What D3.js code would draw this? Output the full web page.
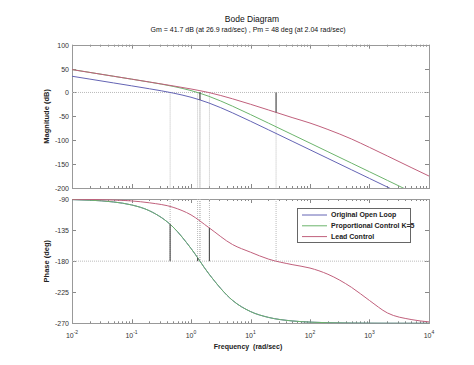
<!DOCTYPE html>
<html>
<head>
<meta charset="utf-8">
<script src="https://cdn.jsdelivr.net/npm/d3@7"></script>
<style>
  body { margin: 0; background: #fff; }
  text { font-family: "Liberation Sans", Arial, sans-serif; fill: #333; }
</style>
</head>
<body>
<div id="chart"></div>
<script>
// frequencies (rad/sec) the curves were read at
const freqs = [0.01, 0.02, 0.05, 0.1, 0.2, 0.5, 1, 2, 5, 10, 20, 50, 100, 200, 500, 1000, 2000, 5000, 10000];

// magnitude (dB)
const magOpen = [33.98, 27.95, 19.98, 13.91, 7.74, -1.23, -10.0, -22.04, -42.75, -60.21, -78.11, -101.95, -120.0, -138.06, -161.94, -180.0, -198.06, -221.94, -240.0];
const magProp = [47.96, 41.93, 33.96, 27.89, 21.72, 12.75, 3.98, -8.06, -28.77, -46.23, -64.13, -87.97, -106.02, -124.08, -147.96, -166.02, -184.08, -207.96, -226.02];
const magLead = [47.95, 41.93, 33.95, 27.94, 21.9, 13.8, 7.3, -0.2, -13.3, -24.7, -36.6, -52.5, -64.0, -77.5, -97.5, -115.0, -133.0, -157.0, -175.0];

// phase (deg) -- open loop and K=5 lie on top of each other
const phaseOpen = [-90.86, -91.72, -94.29, -98.57, -107.02, -130.61, -161.57, -198.43, -236.89, -252.98, -261.43, -266.56, -268.28, -269.14, -269.66, -269.83, -269.91, -269.97, -269.98];
const phaseProp = phaseOpen.slice();
const phaseLead = [-90.3, -90.6, -91.5, -92.8, -95.5, -102, -113, -131.5, -156, -167, -177, -185, -190, -199, -218, -237, -255, -264.5, -268];

// margins per system: gain crossover / phase at it, phase crossover / gain there
const wcp = [0.446, 1.29, 2.04];
const pmPhase = [-126.6, -175.0, -132.0];
const wcg = [1.414, 1.414, 26.9];
const gmMag = [-15.6, -1.6, -41.7];

const seriesNames = ['Original Open Loop', 'Proportional Control K=5', 'Lead Control'];
const seriesColors = ['#6464b4', '#6cb46c', '#c0607c'];

const magTicks = [100, 50, 0, -50, -100, -150, -200];
const phaseTicks = [-90, -135, -180, -225, -270];
const decades = [-2, -1, 0, 1, 2, 3, 4];

const W = 474, H = 365;
const left = 72, right = 429;

const svg = d3.select('#chart').append('svg')
  .attr('width', W)
  .attr('height', H);

const x = d3.scaleLog().domain([1e-2, 1e4]).range([left, right]);
const yMag = d3.scaleLinear().domain([-200, 100]).range([188, 44.7]);
const yPh = d3.scaleLinear().domain([-270, -90]).range([323.3, 199]);

/* draws frame + ticks of one panel */
function panel(y, yTicks, clipId){
  const [y0, y1] = y.range(); // bottom, top
  const g = svg.append('g');

  svg.append('clipPath').attr('id', clipId)
    .append('rect')
    .attr('x', left).attr('y', y1)
    .attr('width', right - left).attr('height', y0 - y1);

  // x ticks, inside, top and bottom
  x.ticks().forEach(t => {
    const major = Math.abs(Math.log10(t) - Math.round(Math.log10(t))) < 1e-9;
    const len = major ? 4 : 2;
    const px = Math.round(x(t)) + 0.5;
    g.append('line').attr('x1', px).attr('x2', px).attr('y1', y0).attr('y2', y0 - len)
      .attr('stroke', '#888');
    g.append('line').attr('x1', px).attr('x2', px).attr('y1', y1).attr('y2', y1 + len)
      .attr('stroke', '#888');
  });

  yTicks.forEach(t => {
    const py = Math.round(y(t)) + 0.5;
    g.append('line').attr('x1', left).attr('x2', left + 4).attr('y1', py).attr('y2', py)
      .attr('stroke', '#888');
    g.append('line').attr('x1', right).attr('x2', right - 4).attr('y1', py).attr('y2', py)
      .attr('stroke', '#888');
    g.append('text')
      .attr('x', left - 3).attr('y', py)
      .attr('dy', '0.35em')
      .attr('text-anchor', 'end')
      .style('font-size', '7px')
      .text(t);
  });

  g.append('rect')
    .attr('x', left + 0.5).attr('y', Math.round(y1) + 0.5)
    .attr('width', right - left).attr('height', Math.round(y0) - Math.round(y1))
    .attr('fill', 'none')
    .attr('stroke', '#999');
  return g;
}

panel(yMag, magTicks, 'clipMag');
panel(yPh, phaseTicks, 'clipPh');

const ref = svg.append('g');

// 0 dB and -180 deg reference lines
ref.append('line')
  .attr('x1', left).attr('x2', right)
  .attr('y1', yMag(0)).attr('y2', yMag(0))
  .attr('stroke', '#bbb').attr('stroke-dasharray', '1,1');
ref.append('line')
  .attr('x1', left).attr('x2', right)
  .attr('y1', yPh(-180)).attr('y2', yPh(-180))
  .attr('stroke', '#bbb').attr('stroke-dasharray', '1,1');

// dotted frequency markers
wcp.concat(wcg).forEach(w => {
  ref.append('line')
    .attr('x1', x(w)).attr('x2', x(w))
    .attr('y1', yMag(0)).attr('y2', yMag(-200))
    .attr('stroke', '#bbb').attr('stroke-dasharray', '1,1');
  ref.append('line')
    .attr('x1', x(w)).attr('x2', x(w))
    .attr('y1', yPh(-90)).attr('y2', yPh(-180))
    .attr('stroke', '#bbb').attr('stroke-dasharray', '1,1');
});

// curves
const magLine = d3.line()
  .x(d => x(d[0]))
  .y(d => yMag(d[1]))
  .curve(d3.curveMonotoneX);
const phLine = d3.line()
  .x(d => x(d[0]))
  .y(d => yPh(d[1]))
  .curve(d3.curveMonotoneX);

const mags = [magOpen, magProp, magLead];
const phases = [phaseOpen, phaseProp, phaseLead];

mags.forEach((m, i) => {
  svg.append('path')
    .datum(freqs.map((f, j) => [f, m[j]]))
    .attr('clip-path', 'url(#clipMag)')
    .attr('d', magLine)
    .attr('fill', 'none')
    .attr('stroke', seriesColors[i])
    .attr('stroke-width', 1);
});

phases.forEach((p, i) => {
  svg.append('path')
    .datum(freqs.map((f, j) => [f, p[j]]))
    .attr('clip-path', 'url(#clipPh)')
    .attr('d', phLine)
    .attr('fill', 'none')
    .attr('stroke', seriesColors[i])
    .attr('stroke-width', 1);
});

// solid margin bars
wcg.forEach((w, i) => {
  svg.append('line')
    .attr('x1', x(w)).attr('x2', x(w))
    .attr('y1', yMag(0)).attr('y2', yMag(gmMag[i]))
    .attr('stroke', '#555').attr('stroke-width', 1.2);
});
wcp.forEach((w, i) => {
  svg.append('line')
    .attr('x1', x(w)).attr('x2', x(w))
    .attr('y1', yPh(-180)).attr('y2', yPh(pmPhase[i]))
    .attr('stroke', '#555').attr('stroke-width', 1.2);
});

// x tick labels (bottom panel only)
decades.forEach(e => {
  const t = svg.append('text')
    .attr('x', x(Math.pow(10, e)))
    .attr('y', 338)
    .attr('text-anchor', 'middle')
    .style('font-size', '7px');
  t.append('tspan').text('10');
  t.append('tspan').attr('dy', -4).style('font-size', '5px').text(e);
});

// legend
const lg = svg.append('g');
lg.append('rect')
  .attr('x', 297.5).attr('y', 208.5)
  .attr('width', 113).attr('height', 34)
  .attr('fill', '#fff')
  .attr('stroke', '#666');
seriesNames.forEach((name, i) => {
  const ly = 215 + i * 10.8;
  lg.append('line')
    .attr('x1', 302).attr('x2', 327)
    .attr('y1', ly).attr('y2', ly)
    .attr('stroke', seriesColors[i]);
  lg.append('text')
    .attr('x', 331).attr('y', ly)
    .attr('dy', '0.35em')
    .style('font-size', '7px')
    .style('font-weight', 'bold')
    .style('fill', '#222')
    .text(name);
});

// titles and axis labels
svg.append('text')
  .attr('x', 252).attr('y', 22)
  .attr('text-anchor', 'middle')
  .style('font-size', '8.5px')
  .style('fill', '#111')
  .text('Bode Diagram');
svg.append('text')
  .attr('x', 248).attr('y', 31.5)
  .attr('text-anchor', 'middle')
  .style('font-size', '7px')
  .style('fill', '#111')
  .text('Gm = 41.7 dB (at 26.9 rad/sec) ,  Pm = 48 deg (at 2.04 rad/sec)');

svg.append('text')
  .attr('transform', `translate(49,${(yMag(100) + yMag(-200)) / 2}) rotate(-90)`)
  .attr('text-anchor', 'middle')
  .style('font-size', '7.5px')
  .style('font-weight', 'bold')
  .style('fill', '#222')
  .text('Magnitude (dB)');
svg.append('text')
  .attr('transform', `translate(49,${(yPh(-90) + yPh(-270)) / 2}) rotate(-90)`)
  .attr('text-anchor', 'middle')
  .style('font-size', '7.5px')
  .style('font-weight', 'bold')
  .style('fill', '#222')
  .text('Phase (deg)');
svg.append('text')
  .attr('x', 248).attr('y', 349)
  .attr('text-anchor', 'middle')
  .style('font-size', '7px')
  .style('font-weight', 'bold')
  .style('fill', '#222')
  .style('white-space', 'pre')
  .text('Frequency  (rad/sec)');
</script>
</body>
</html>
